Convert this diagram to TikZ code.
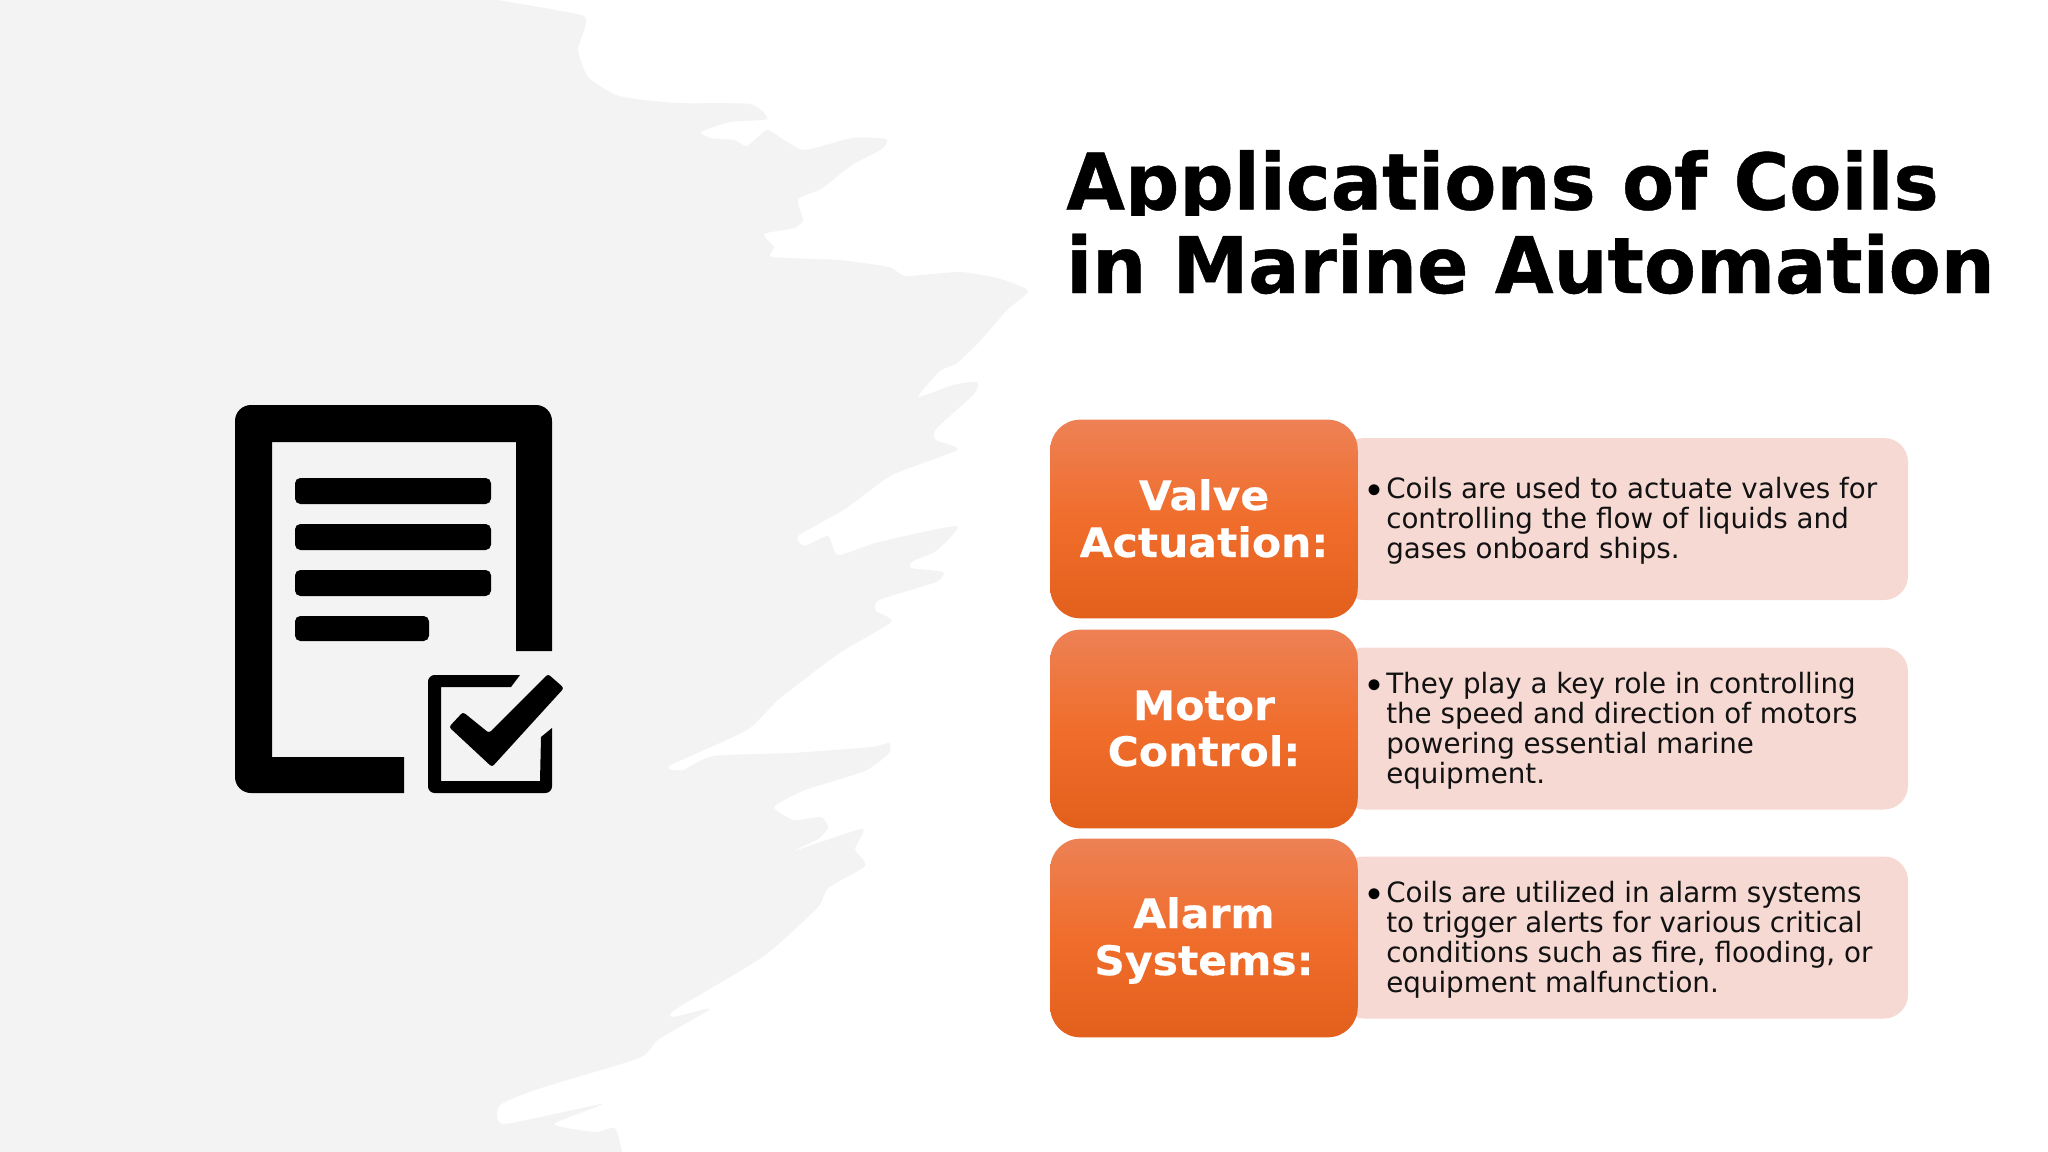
\documentclass[tikz,border=0pt]{standalone}
\usepackage{fontspec}
\setmainfont{DejaVu Sans}[FakeStretch=0.99]
\newfontfamily\bulletfont{Liberation Sans}
\newfontfamily\titlefont{DejaVu Sans Bold}[FakeStretch=0.973,FakeBold=0.6]
\newfontfamily\headfont{DejaVu Sans Bold}[FakeStretch=1.045,FakeBold=0.4]
\definecolor{brush}{HTML}{F3F3F3}
\definecolor{pinkbox}{HTML}{F6D9D3}
\definecolor{ortop}{HTML}{ED8155}
\definecolor{ormid}{HTML}{F06D2B}
\definecolor{orbot}{HTML}{E35F1C}
\tikzset{
  x=0.75pt,y=-0.75pt,
  orangebox/.style={rounded corners=22.5pt,minimum width=230.6pt,minimum height=149pt,inner sep=0pt,
    top color=ortop,bottom color=orbot,middle color=ormid,draw=none},
  pinkpanel/.style={rounded corners=18pt,minimum width=426pt,minimum height=121.5pt,inner sep=0pt,fill=pinkbox,draw=none},
  titletext/.style={anchor=base west,inner sep=0pt,font=\fontsize{58.5}{62}\selectfont\titlefont,text=black},
  headtext/.style={anchor=base,inner sep=0pt,align=center,text=white,font=\fontsize{30.5}{35}\selectfont\headfont},
  bodytext/.style={anchor=base west,inner sep=0pt,align=left,text=black!93,font=\fontsize{21}{22.5}\selectfont},
  bullettext/.style={anchor=base,inner sep=0pt,text=black,font=\fontsize{30}{30}\selectfont\bulletfont},
  iconbar/.style={fill=black,rounded corners=4pt},
}
\begin{document}
\begin{tikzpicture}
\useasboundingbox (0,0) rectangle (2048,1152);
\fill[white] (0,0) rectangle (2048,1152);
% brush stroke
\fill[brush] (0,0) -- (497,0) -- plot[smooth,tension=0.35] coordinates {
(497,0)(581,15)(585,27)(578,50)(588,77)(619,96)(676,103)(750,104)(767,119)(730,122)(701,132)(710,138)(734,140)(747,146)(767,130)(784,140)(805,150)(852,138)(886,139)(882,149)(852,165)(821,189)(798,199)(803,220)(794,228)(764,234)(774,247)(772,257)(838,260)(889,267)(906,276)(960,272)(1001,279)(1028,291)(1007,310)(980,341)(957,363)(940,371)(918,397)(953,385)(977,382)(974,394)(936,429)(936,440)(957,450)(892,475)(845,509)(798,536)(805,546)(828,536)(838,555)(879,542)(957,526)(936,551)(913,561)(911,568)(943,572)(936,582)(879,600)(876,611)(891,622)(838,654)(778,700)(747,730)(669,766)(683,770)(713,756)(791,753)(872,747)(889,743)(889,753)(865,771)(805,790)(774,807)(794,820)(821,817)(828,828)(818,839)(794,851)(862,829)(855,849)(865,866)(828,888)(818,907)(764,956)(676,1009)(673,1017)(710,1009)(659,1039)(639,1058)(541,1088)(500,1105)(504,1124)(602,1104)(554,1124)(595,1132)(615,1128)(622,1152)}
 -- (0,1152) -- cycle;
% document icon
\fill[black] (404,793) [rounded corners=12pt] -- (235,793) -- (235,405) -- (552,405) [rounded corners=0pt] -- (552,651) -- (516,651) -- (516,442) -- (272,442) -- (272,757) -- (404,757) -- cycle;
\fill[iconbar] (295,478) rectangle (491,504);
\fill[iconbar] (295,524) rectangle (491,550);
\fill[iconbar] (295,570) rectangle (491,596);
\fill[iconbar] (295,616) rectangle (429,641);
\fill[black] (520,675) -- (511,687) -- (441,687) -- (441,781) -- (540,781) -- (541,737) -- (552,728) [rounded corners=5pt] -- (552,793) -- (428,793) -- (428,675) [rounded corners=0pt] -- cycle;
\fill[black,rounded corners=2pt] (548,674) -- (564,688) -- (492,767) -- (449,727) -- (463,712) -- (489,733) -- cycle;
% title
\begin{scope}
\clip (1000,100) rectangle (2048,215);
\node[titletext] (t1) at (1066,209.5) {Applications of Coils};
\end{scope}
\node[titletext] (t2) at (1066,293) {in Marine Automation};
% panels
\node[pinkpanel] (p1) at (1624,519) {};
\node[pinkpanel] (p2) at (1624,728.5) {};
\node[pinkpanel] (p3) at (1624,937.5) {};
\node[orangebox] (o1) at (1204,519) {};
\node[orangebox] (o2) at (1204,729) {};
\node[orangebox] (o3) at (1204,938) {};
\node[headtext] (h1a) at (1204,510) {Valve};
\node[headtext] (h1b) at (1204,557) {Actuation:};
\node[headtext] (h2a) at (1204,720) {Motor};
\node[headtext] (h2b) at (1204,766) {Control:};
\node[headtext] (h3a) at (1204,928) {Alarm};
\node[headtext] (h3b) at (1204,975) {Systems:};
\node[bullettext] (b1) at (1374,503) {•};
\node[bullettext] (b2) at (1374,698) {•};
\node[bullettext] (b3) at (1374,907) {•};
\node[bodytext] (d1) at (1386,558) {Coils are used to actuate valves for\\controlling the flow of liquids and\\gases onboard ships.};
\node[bodytext] (d2) at (1386,783) {They play a key role in controlling\\the speed and direction of motors\\powering essential marine\\equipment.};
\node[bodytext] (d3) at (1386,992) {Coils are utilized in alarm systems\\to trigger alerts for various critical\\conditions such as fire, flooding, or\\equipment malfunction.};
\end{tikzpicture}
\end{document}
